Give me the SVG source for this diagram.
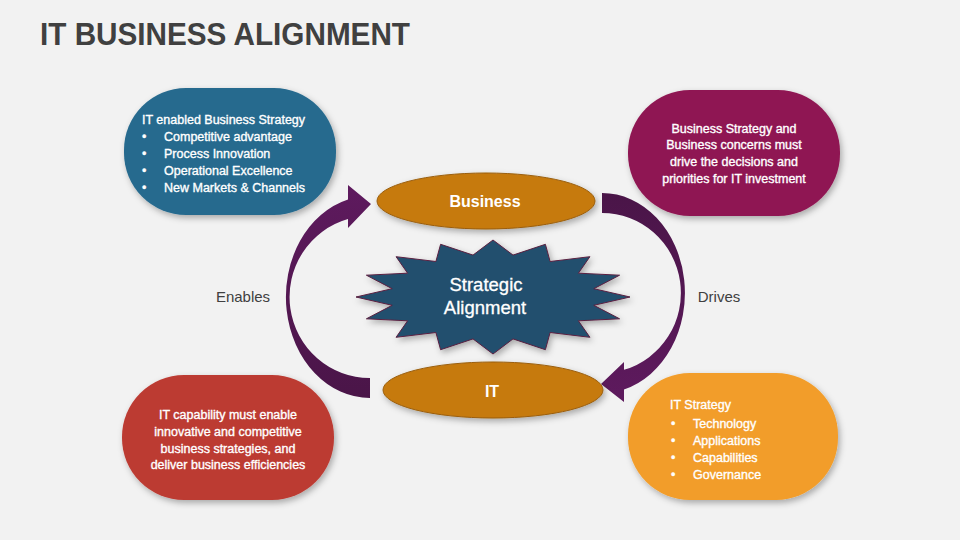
<svg xmlns="http://www.w3.org/2000/svg" width="960" height="540" viewBox="0 0 960 540">
  <style>
    .title { font-family: "Liberation Sans", Arial, sans-serif; font-weight: bold; font-size: 31px; fill: #404040; }
    .pt { font-family: "Liberation Sans", Arial, sans-serif; font-size: 12.5px; fill: #ffffff; stroke: #ffffff; stroke-width: 0.35px; }
    .ptc { font-family: "Liberation Sans", Arial, sans-serif; font-size: 12.5px; fill: #ffffff; stroke: #ffffff; stroke-width: 0.35px; text-anchor: middle; }
    .node { font-family: "Liberation Sans", Arial, sans-serif; font-weight: bold; font-size: 16px; fill: #ffffff; text-anchor: middle; }
    .star { font-family: "Liberation Sans", Arial, sans-serif; font-size: 18.5px; fill: #ffffff; stroke: #ffffff; stroke-width: 0.3px; text-anchor: middle; }
    .lbl { font-family: "Liberation Sans", Arial, sans-serif; font-size: 15px; fill: #404040; text-anchor: middle; }
    .ell { fill: #C67A0C; stroke: #9A5E0A; stroke-width: 1; }
  </style>
  <defs>
    <filter id="sh" x="-20%" y="-20%" width="140%" height="150%">
      <feDropShadow dx="2" dy="3" stdDeviation="3" flood-color="#000" flood-opacity="0.3"/>
    </filter>
    <linearGradient id="gl" x1="0" y1="1" x2="0" y2="0">
      <stop offset="0" stop-color="#4A1548"/>
      <stop offset="1" stop-color="#5E1A5E"/>
    </linearGradient>
    <linearGradient id="gr" x1="0" y1="0" x2="0" y2="1">
      <stop offset="0" stop-color="#4A1548"/>
      <stop offset="1" stop-color="#5E1A5E"/>
    </linearGradient>
  </defs>
  <rect width="960" height="540" fill="#F2F2F2"/>
  <text class="title" x="40" y="45" textLength="370" lengthAdjust="spacingAndGlyphs">IT BUSINESS ALIGNMENT</text>

  <g id="connectors">
    <path d="M 370 398 A 84 101 0 0 1 348 199.5 L 348 185 L 371 204 L 348 228 L 348 219 A 80 81 0 0 0 370 378 Z" fill="url(#gl)"/>
    <path d="M 602 193 A 83 100 0 0 1 624 389.4 L 624 402 L 601 384 L 624 362 L 624 369.8 A 79 80 0 0 0 602 213 Z" fill="url(#gr)"/>
    <text class="lbl" x="243" y="302">Enables</text>
    <text class="lbl" x="719" y="302">Drives</text>
  </g>

  <g id="it-enabled-strategy">
    <rect x="124" y="88" width="212" height="127" rx="62" ry="62" fill="#276A8E" filter="url(#sh)"/>
    <text class="pt" x="142" y="123.5">IT enabled Business Strategy</text>
    <text class="pt" x="142" y="141">•</text><text class="pt" x="164" y="141">Competitive advantage</text>
    <text class="pt" x="142" y="158">•</text><text class="pt" x="164" y="158">Process Innovation</text>
    <text class="pt" x="142" y="175">•</text><text class="pt" x="164" y="175">Operational Excellence</text>
    <text class="pt" x="142" y="192">•</text><text class="pt" x="164" y="192">New Markets &amp; Channels</text>
  </g>

  <g id="business-concerns">
    <rect x="628" y="90" width="212" height="126" rx="62" ry="62" fill="#8F1752" filter="url(#sh)"/>
    <text class="ptc" x="734" y="132.5">Business Strategy and</text>
    <text class="ptc" x="734" y="149">Business concerns must</text>
    <text class="ptc" x="734" y="166">drive the decisions and</text>
    <text class="ptc" x="734" y="182.5">priorities for IT investment</text>
  </g>

  <g id="it-capability">
    <rect x="122" y="375" width="212" height="125" rx="62" ry="62" fill="#BC3A32" filter="url(#sh)"/>
    <text class="ptc" x="228" y="419">IT capability must enable</text>
    <text class="ptc" x="228" y="436">innovative and competitive</text>
    <text class="ptc" x="228" y="452.5">business strategies, and</text>
    <text class="ptc" x="228" y="469">deliver business efficiencies</text>
  </g>

  <g id="it-strategy">
    <rect x="628" y="373" width="210" height="127" rx="62" ry="62" fill="#F29D2A" filter="url(#sh)"/>
    <text class="pt" x="670" y="408.5">IT Strategy</text>
    <text class="pt" x="671" y="427.5">•</text><text class="pt" x="693" y="427.5">Technology</text>
    <text class="pt" x="671" y="445">•</text><text class="pt" x="693" y="445">Applications</text>
    <text class="pt" x="671" y="461.5">•</text><text class="pt" x="693" y="461.5">Capabilities</text>
    <text class="pt" x="671" y="478.5">•</text><text class="pt" x="693" y="478.5">Governance</text>
  </g>

  <g id="business">
    <ellipse class="ell" cx="486" cy="201" rx="109" ry="28" filter="url(#sh)"/>
    <text class="node" x="485" y="207">Business</text>
  </g>

  <g id="it">
    <ellipse class="ell" cx="493" cy="390" rx="110" ry="28" filter="url(#sh)"/>
    <text class="node" x="492" y="397">IT</text>
  </g>

  <g id="strategic-alignment">
    <polygon points="630,297 593.8,288.7 619.6,275.2 578.4,273.2 589.9,256.7 550.1,261.5 545.4,244.3 513,255.1 493,240 473,255.1 440.6,244.3 435.9,261.5 396.1,256.7 407.6,273.2 366.4,275.2 392.2,288.7 356,297 392.2,305.3 366.4,318.8 407.6,320.8 396.1,337.3 435.9,332.5 440.6,349.7 473,338.9 493,354 513,338.9 545.4,349.7 550.1,332.5 589.9,337.3 578.4,320.8 619.6,318.8 593.8,305.3" fill="#21506E" stroke="#5A1F40" stroke-width="1" filter="url(#sh)"/>
    <text class="star" x="486" y="291">Strategic</text>
    <text class="star" x="485" y="314">Alignment</text>
  </g>
</svg>
